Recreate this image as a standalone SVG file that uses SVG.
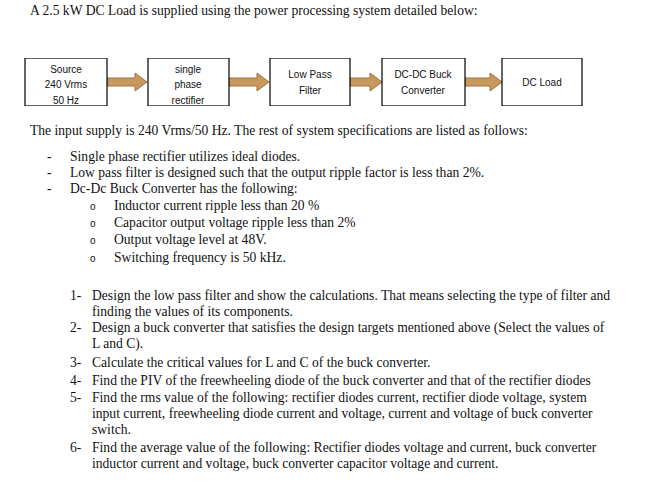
<svg xmlns="http://www.w3.org/2000/svg" width="672" height="498" viewBox="0 0 672 498">
<style>
.t{font-family:"Liberation Serif",serif;font-size:13.6px;fill:#111}
.b{fill:#fff;stroke:#000;stroke-width:1.2}
.bl{font-family:"Liberation Sans","Noto Sans",sans-serif;font-size:10px;fill:#111;text-anchor:middle}
.a{fill:#c8995c;stroke:#a07040;stroke-width:1}
.o{font-family:"Liberation Sans",sans-serif;font-size:10px;fill:#111}
</style>
<rect width="672" height="498" fill="#fff"/>
<text class="t" x="30" y="15">A 2.5 kW DC Load is supplied using the power processing system detailed below:</text>
<defs><clipPath id="c"><rect x="0" y="58" width="672" height="48"/></clipPath></defs>
<g id="connectors">
<path class="a" d="M107 78h28v-5l12 9l-12 9v-5h-28z"/>
<path class="a" d="M229 78h28v-5l12 9l-12 9v-5h-28z"/>
<path class="a" d="M350 78h20v-5l12 9l-12 9v-5h-20z"/>
<path class="a" d="M465 78h25v-5l12 9l-12 9v-5h-25z"/>
</g>
<g clip-path="url(#c)">
<g id="source"><rect class="b" x="25" y="58" width="82" height="48"/><text class="bl" x="66" y="73">Source</text><text class="bl" x="66" y="88">240 Vrms</text><text class="bl" x="66" y="104">50 Hz</text></g>
<g id="rectifier"><rect class="b" x="148" y="58" width="81" height="48"/><text class="bl" x="188" y="73">single</text><text class="bl" x="188" y="88">phase</text><text class="bl" x="188" y="104">rectifier</text></g>
<g id="lpf"><rect class="b" x="270" y="58" width="80" height="48"/><text class="bl" x="310" y="78">Low Pass</text><text class="bl" x="310" y="94">Filter</text></g>
<g id="buck"><rect class="b" x="382" y="58" width="83" height="48"/><text class="bl" x="423" y="78">DC-DC Buck</text><text class="bl" x="423" y="94">Converter</text></g>
<g id="load"><rect class="b" x="502" y="58" width="80" height="48"/><text class="bl" x="542" y="86">DC Load</text></g>
</g>
<text class="t" x="30" y="135">The input supply is 240 Vrms/50 Hz. The rest of system specifications are listed as follows:</text>
<text class="t" x="47" y="161">-</text><text class="t" x="70" y="161">Single phase rectifier utilizes ideal diodes.</text>
<text class="t" x="47" y="177">-</text><text class="t" x="70" y="177">Low pass filter is designed such that the output ripple factor is less than 2%.</text>
<text class="t" x="47" y="193">-</text><text class="t" x="70" y="193">Dc-Dc Buck Converter has the following:</text>
<text class="o" x="90" y="210">o</text><text class="t" x="114" y="210">Inductor current ripple less than 20 %</text>
<text class="o" x="90" y="227">o</text><text class="t" x="114" y="227">Capacitor output voltage ripple less than 2%</text>
<text class="o" x="90" y="244">o</text><text class="t" x="114" y="244">Output voltage level at 48V.</text>
<text class="o" x="90" y="262">o</text><text class="t" x="114" y="262">Switching frequency is 50 kHz.</text>
<text class="t" x="70" y="300">1-</text><text class="t" x="92" y="300">Design the low pass filter and show the calculations. That means selecting the type of filter and</text>
<text class="t" x="92" y="316">finding the values of its components.</text>
<text class="t" x="70" y="332">2-</text><text class="t" x="92" y="332">Design a buck converter that satisfies the design targets mentioned above (Select the values of</text>
<text class="t" x="92" y="348">L and C).</text>
<text class="t" x="70" y="367">3-</text><text class="t" x="92" y="367">Calculate the critical values for L and C of the buck converter.</text>
<text class="t" x="70" y="385">4-</text><text class="t" x="92" y="385">Find the PIV of the freewheeling diode of the buck converter and that of the rectifier diodes</text>
<text class="t" x="70" y="402">5-</text><text class="t" x="92" y="402">Find the rms value of the following: rectifier diodes current, rectifier diode voltage, system</text>
<text class="t" x="92" y="418">input current, freewheeling diode current and voltage, current and voltage of buck converter</text>
<text class="t" x="92" y="434">switch.</text>
<text class="t" x="70" y="452">6-</text><text class="t" x="92" y="452">Find the average value of the following: Rectifier diodes voltage and current, buck converter</text>
<text class="t" x="92" y="468">inductor current and voltage, buck converter capacitor voltage and current.</text>
</svg>
